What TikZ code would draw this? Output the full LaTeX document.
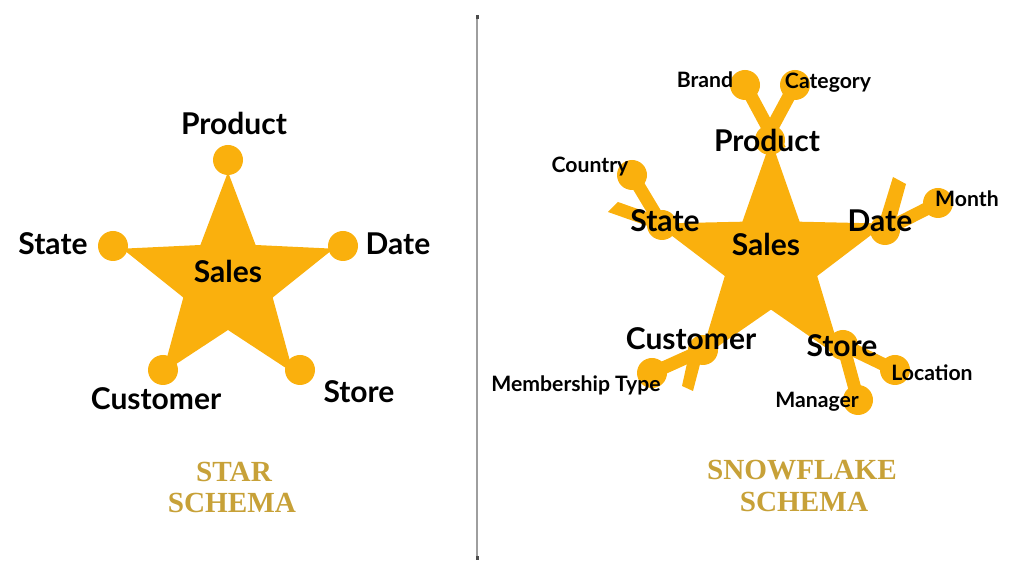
\documentclass[tikz,border=0pt]{standalone}
\usepackage{fontspec}
\usepackage{tikz}
\newfontfamily\lblfont{Lato}
\newfontfamily\ttlfont{Liberation Serif}
\definecolor{ffbbqq}{rgb}{0.98,0.69,0.05}
\definecolor{ccaaqq}{rgb}{0.78,0.63,0.22}
\definecolor{qqqqqq}{rgb}{0.62,0.62,0.62}
\tikzset{
  dot/.style={circle,fill=ffbbqq,inner sep=0pt,minimum size=15pt},
  bar/.style={line width=6.5pt,color=ffbbqq},
  biglbl/.style={anchor=base,inner sep=0pt,font=\lblfont\bfseries\fontsize{15}{17}\selectfont},
  smalllbl/.style={anchor=base,inner sep=0pt,font=\lblfont\bfseries\fontsize{10.6}{12}\selectfont},
  titlelbl/.style={anchor=base,inner sep=0pt,color=ccaaqq,font=\ttlfont\bfseries\fontsize{14.6}{17}\selectfont}
}
\begin{document}
\begin{tikzpicture}[line cap=butt,line join=miter,x=0.5pt,y=-0.5pt]
\useasboundingbox (0,0) rectangle (1024,576);
% divider
\draw [line width=0.8pt,color=qqqqqq] (477,17) -- (477,558);
\fill [color=black!70] (475.5,15) rectangle (478.5,19);
\fill [color=black!70] (475.5,556) rectangle (478.5,560);

% star schema
\fill [color=ffbbqq] (228,172) -- (200.4,245) -- (122.4,248.7) -- (183.3,297.5) -- (162.8,372.8) -- (228,330) -- (293.2,372.8) -- (272.7,297.5) -- (333.6,248.7) -- (255.6,245) -- cycle;
\node [dot] (lprod) at (228,160) {};
\node [dot] (lstate) at (113,246) {};
\node [dot] (ldate) at (343,246) {};
\node [dot] (lcust) at (163,370) {};
\node [dot] (lstore) at (300,370) {};
\node [biglbl] (lsales) at (228,283) {Sales};
\node [biglbl] (lprodlbl) at (234,135) {Product};
\node [biglbl] (lstatelbl) at (53,255) {State};
\node [biglbl] (ldatelbl) at (398,255) {Date};
\node [biglbl] (lcustlbl) at (156,410) {Customer};
\node [biglbl] (lstorelbl) at (359,403) {Store};
\node [titlelbl] (startitle) at (234,482) {STAR};
\node [titlelbl] (startitleb) at (232,513) {SCHEMA};

% snowflake schema
\node [dot] (brand) at (745,85) {};
\node [dot] (categ) at (795,85) {};
\node [dot] (country) at (632,175) {};
\node [dot] (month) at (938,203) {};
\node [dot] (member) at (652,373) {};
\node [dot] (locat) at (895,370) {};
\node [dot] (manag) at (858,400) {};
\coordinate (brandend) at (780,150);
\coordinate (categend) at (760,150);
\fill [color=ffbbqq] (771,140) -- (742.4,221.7) -- (655.9,223.6) -- (724.8,276) -- (699.9,358.9) -- (771,309.6) -- (842.1,358.9) -- (817.2,276) -- (886.1,223.6) -- (799.6,221.7) -- cycle;
\fill [color=ffbbqq] (618,202) -- (608,212) -- (662,231) -- (666,219) -- cycle;
\fill [color=ffbbqq] (893,177) -- (906,184) -- (893,231) -- (878,226) -- cycle;
\fill [color=ffbbqq] (682,386) -- (693,391) -- (704,349) -- (691,345) -- cycle;
\node [dot] (rprod) at (770,140) {};
\node [dot] (rstate) at (662,225) {};
\node [dot] (rdate) at (885,230) {};
\node [dot] (rcust) at (703,350) {};
\node [dot] (rstore) at (843,345) {};
\draw [bar] (brand.center) -- (brandend);
\draw [bar] (categ.center) -- (categend);
\draw [bar] (country.center) -- (rstate.center);
\draw [bar] (month.center) -- (rdate.center);
\draw [bar] (member.center) -- (rcust.center);
\draw [bar] (rstore.center) -- (locat.center);
\draw [bar] (rstore.center) -- (manag.center);
\node [biglbl] (rsales) at (766,256) {Sales};
\node [biglbl] (rprodlbl) at (767,152) {Product};
\node [biglbl] (rstatelbl) at (665,232) {State};
\node [biglbl] (rdatelbl) at (880,232) {Date};
\node [biglbl] (rcustlbl) at (691,350) {Customer};
\node [biglbl] (rstorelbl) at (842,357) {Store};
\node [smalllbl] (brandlbl) at (705,88) {Brand};
\node [smalllbl] (categlbl) at (828,89) {Category};
\node [smalllbl] (countrylbl) at (590,173) {Country};
\node [smalllbl] (monthlbl) at (967,207) {Month};
\node [smalllbl] (memberlbl) at (576,392) {Membership Type};
\node [smalllbl] (locatlbl) at (932,381) {Location};
\node [smalllbl] (managlbl) at (817,408) {Manager};
\node [titlelbl] (snowtitle) at (802,480) {SNOWFLAKE};
\node [titlelbl] (snowtitleb) at (804,512) {SCHEMA};
\end{tikzpicture}
\end{document}
